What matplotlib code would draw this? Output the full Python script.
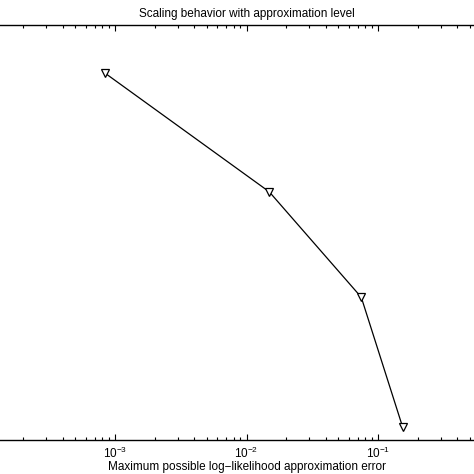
import matplotlib
matplotlib.use("Agg")
import matplotlib.pyplot as plt
from matplotlib.ticker import LogLocator, FixedLocator

# Data (y axis has no visible labels; relative units)
max_error = [8.4e-4, 0.0149, 0.0746, 0.154]
runtime = [0.884, 0.598, 0.344, 0.031]

xticks = [1e-3, 1e-2, 1e-1]
title = "Scaling behavior with approximation level"
xlabel = "Maximum possible log\u2212likelihood approximation error"

plt.rcParams['font.family'] = ['Liberation Sans', 'DejaVu Sans']
plt.rcParams['mathtext.fontset'] = 'custom'
plt.rcParams['mathtext.rm'] = 'Liberation Sans'
plt.rcParams['mathtext.it'] = 'Liberation Sans:italic'

fig = plt.figure(figsize=(4.74, 4.74), dpi=100)
ax = fig.add_axes([-16.5 / 474, 34 / 474, 526 / 474, 415 / 474])

ax.plot(max_error, runtime, color='black', lw=0.9, marker='v', markersize=5.5,
        markerfacecolor='white', markeredgecolor='black', markeredgewidth=0.9)

ax.set_xscale('log')
ax.set_xlim(1e-4, 1)
ax.set_ylim(0, 1)
ax.xaxis.set_major_locator(FixedLocator(xticks))
ax.xaxis.set_minor_locator(LogLocator(base=10, subs=range(2, 10), numticks=10))
ax.tick_params(axis='x', which='both', direction='in', top=True, bottom=True,
               labelsize=8.5, pad=4, width=0.8)
ax.tick_params(axis='x', which='major', length=4)
ax.tick_params(axis='x', which='minor', length=2)
ax.set_yticks([])
for s in ax.spines.values():
    s.set_linewidth(1.0)

ax.set_title(title, fontsize=8.5, pad=6)
ax.set_xlabel(xlabel, fontsize=8.5, labelpad=0)

fig.savefig("out.png", dpi=100)
